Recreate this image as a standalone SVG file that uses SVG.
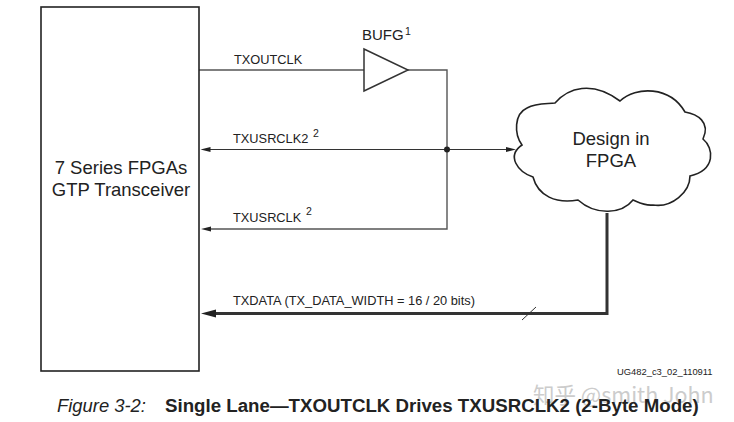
<svg xmlns="http://www.w3.org/2000/svg" width="734" height="422" viewBox="0 0 734 422">
<style>
text{font-family:"Liberation Sans",Arial,sans-serif;fill:#222}
.l{font-size:12.800px}
.s{font-size:10.500px}
.n{font-size:18.500px;text-anchor:middle}
.w{fill:none;stroke:#555;stroke-width:1.400}
</style>
<rect width="734" height="422" fill="#fff"/>
<g id="connectors">
<path class="w" d="M199 70H364M408 70H447V229H205"/>
<path d="M204 149.500H508" fill="none" stroke="#333" stroke-width="1.200"/>
<path d="M200.500 149.500l10-2.500v5zM201 229l10-2.500v5zM516 149.500l-10-2.500v5z" fill="#222"/>
<circle cx="447" cy="149.500" r="3" fill="#222"/>
<path d="M607 213V313.500H210" fill="none" stroke="#333" stroke-width="3"/>
<path d="M201 313.500l15-4v8z" fill="#222"/>
<path d="M522 320l14-13" fill="none" stroke="#333" stroke-width="1"/>
</g>
<g id="transceiver">
<rect x="41" y="7" width="158" height="364" fill="#fff" stroke="#222" stroke-width="1.600"/>
<text class="n" x="121" y="174">7 Series FPGAs</text>
<text class="n" x="121" y="196">GTP Transceiver</text>
</g>
<g id="bufg">
<path d="M364 49L408 70L364 91Z" fill="#fff" stroke="#333" stroke-width="1.500"/>
<text x="362" y="40" font-size="15px">BUFG</text>
<text x="405" y="35" class="s">1</text>
</g>
<g id="cloud">
<path d="M522 145C514 134 514 114 527 108C536 103 546 104 555 103C568 88 592 80 620 101C636 86 670 86 685 112C697 114 711 122 703 139C714 148 716 170 690 176C690 192 672 208 653 205C645 206 640 203 633 200C622 214 596 216 578 200C556 204 538 196 533 177C518 172 506 156 522 145Z" fill="#fff" stroke="#222" stroke-width="1.600"/>
<text class="n" x="611" y="145">Design in</text>
<text class="n" x="611" y="167">FPGA</text>
</g>
<g id="labels">
<text x="533" y="403" font-size="21.500px" style="fill:#ccc;font-family:'Noto Sans CJK SC','Liberation Sans',sans-serif">知乎 @smith John</text>
<text class="l" x="234" y="64">TXOUTCLK</text>
<text class="l" x="233" y="143">TXUSRCLK2</text>
<text class="s" x="313" y="137">2</text>
<text class="l" x="233" y="222">TXUSRCLK</text>
<text class="s" x="306" y="215">2</text>
<text class="l" x="233" y="305">TXDATA (TX_DATA_WIDTH = 16 / 20 bits)</text>
<text x="617" y="375" font-size="9.400px">UG482_c3_02_110911</text>
<text x="57" y="412" font-size="18.400px" font-style="italic">Figure 3-2:</text>
<text x="165" y="412" font-size="18.700px" font-weight="bold" fill="#111">Single Lane—TXOUTCLK Drives TXUSRCLK2 (2-Byte Mode)</text>
</g>
</svg>
